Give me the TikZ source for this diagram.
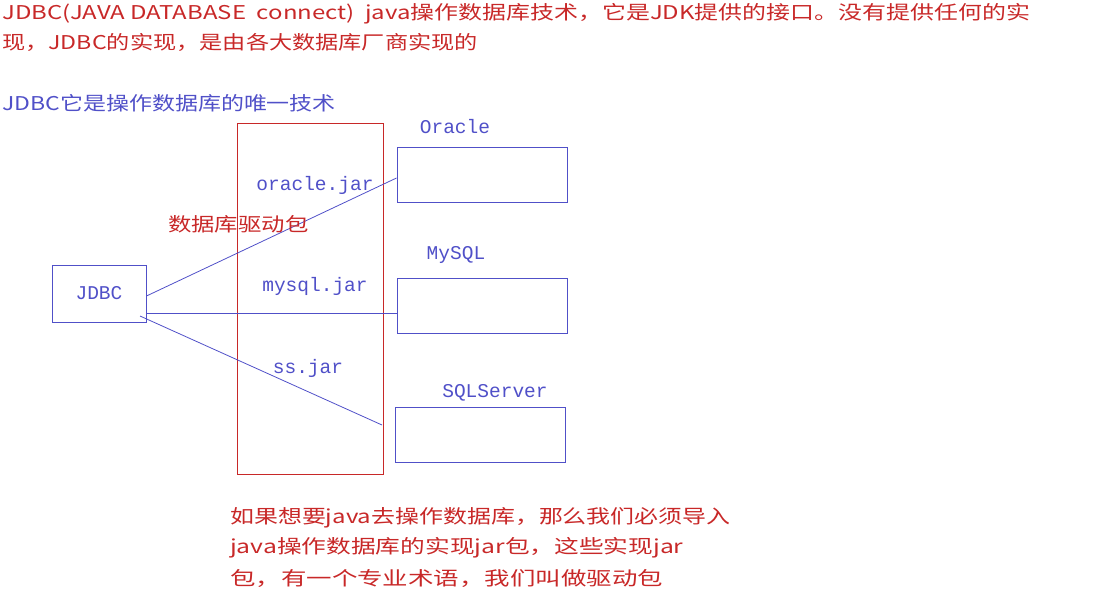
\documentclass[tikz,border=0pt]{standalone}
\usepackage{fontspec}
\setmainfont{Noto Sans CJK SC}
\newfontfamily\monof{Liberation Mono}
\definecolor{tred}{RGB}{200,40,40}
\definecolor{tblue}{RGB}{80,80,200}
\begin{document}
\begin{tikzpicture}[x=1pt,y=-1pt,
  dbbox/.style={draw=tblue,line width=1pt},
  lbl/.style={text=tblue,font=\monof\fontsize{19.5}{22}\selectfont,inner sep=0},
  rtxt/.style={text=tred,font=\fontsize{19}{22}\selectfont,anchor=west,inner sep=0},
  conn/.style={draw=tblue,line width=0.8pt}]
\useasboundingbox (0,0) rectangle (1093,594);
\node[rtxt] (t1) at (2,14) {\scalebox{1.26}[1]{JDBC(JAVA DATABASE\ \ connect)\ \ java操作数据库技术，它是JDK提供的接口。没有提供任何的实}};
\node[rtxt] (t2) at (2,42) {\scalebox{1.22}[1]{现，JDBC的实现，是由各大数据库厂商实现的}};
\node[rtxt,text=tblue] (t3) at (2,103) {\scalebox{1.21}[1]{JDBC它是操作数据库的唯一技术}};
\draw[draw=tred,line width=1pt] (237,123) rectangle (383,474);
\node[dbbox,minimum width=94,minimum height=57] (jdbc) at (99,293.5) {};
\node[lbl] at (jdbc) {JDBC};
\node[dbbox,minimum width=170,minimum height=55] (ora) at (482,174.5) {};
\node[dbbox,minimum width=170,minimum height=55] (my) at (482,305.5) {};
\node[dbbox,minimum width=170,minimum height=55] (ss) at (480,434.5) {};
\node[lbl] (oral) at (455,127) {Oracle};
\node[lbl] (myl) at (456,255) {MySQL};
\node[lbl] (ssl) at (495,393) {SQLServer};
\coordinate (ssend) at (382,425);
\draw[conn] (jdbc.east |- 0,296) -- (ora.west |- 0,178);
\draw[conn] (jdbc.east |- 0,313) -- (my.west |- 0,313);
\draw[conn] (140,316) -- (ssend);
\node[lbl] (oj) at (315,185) {oracle.jar};
\node[lbl] (mj) at (315,286) {mysql.jar};
\node[lbl] (sj) at (308,368) {ss.jar};
\node[rtxt] (drv) at (168,224) {\scalebox{1.23}[1]{数据库驱动包}};
\node[rtxt] (b1) at (230,518) {\scalebox{1.26}[1]{如果想要java去操作数据库，那么我们必须导入}};
\node[rtxt] (b2) at (230,548) {\scalebox{1.30}[1]{java操作数据库的实现jar包，这些实现jar}};
\node[rtxt] (b3) at (230,578) {\scalebox{1.34}[1]{包，有一个专业术语，我们叫做驱动包}};
\end{tikzpicture}
\end{document}
